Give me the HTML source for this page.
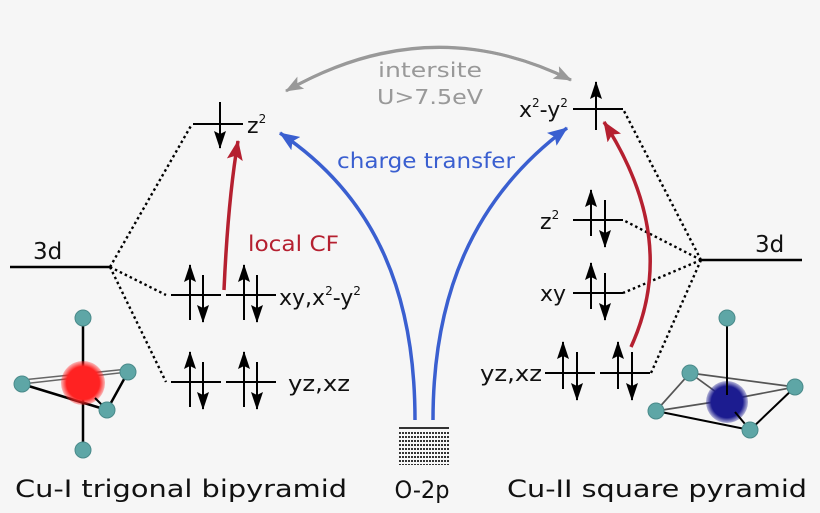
<!DOCTYPE html>
<html><head><meta charset="utf-8"><style>
html,body{margin:0;padding:0;background:#f6f6f6;}
svg{display:block;}
text{font-family:"DejaVu Sans","Liberation Sans",sans-serif;}
</style></head><body>
<svg width="820" height="513" viewBox="0 0 820 513" xmlns="http://www.w3.org/2000/svg">
<defs>
<marker id="ak" viewBox="0 0 18 12" refX="17" refY="6" markerUnits="userSpaceOnUse" markerWidth="18" markerHeight="12" orient="auto"><path d="M0,0 L18,6 L0,12 L3,6 Z" fill="#000"/></marker>
<marker id="ag" viewBox="0 0 18 14" refX="17" refY="7" markerUnits="userSpaceOnUse" markerWidth="18" markerHeight="14" orient="auto"><path d="M0,0 L18,7 L0,14 L4,7 Z" fill="#999"/></marker>
<marker id="ab" viewBox="0 0 20 16" refX="19" refY="8" markerUnits="userSpaceOnUse" markerWidth="20" markerHeight="16" orient="auto"><path d="M0,0 L20,8 L0,16 L4,8 Z" fill="#3a5fd0"/></marker>
<marker id="ar" viewBox="0 0 20 16" refX="19" refY="8" markerUnits="userSpaceOnUse" markerWidth="20" markerHeight="16" orient="auto"><path d="M0,0 L20,8 L0,16 L4,8 Z" fill="#b52030"/></marker>
<radialGradient id="rg"><stop offset="0.75" stop-color="#f22"/><stop offset="1" stop-color="#f22" stop-opacity="0.3"/></radialGradient>
<radialGradient id="bg"><stop offset="0.75" stop-color="#1c1c90"/><stop offset="1" stop-color="#1c1c90" stop-opacity="0.3"/></radialGradient>
<pattern id="dots" width="3" height="4" patternUnits="userSpaceOnUse"><rect width="2" height="2" fill="#333"/></pattern>
</defs>
<rect width="820" height="513" fill="#f6f6f6"/>

<!-- gray intersite arrow -->
<path d="M571,80 Q430,10 286,91" fill="none" stroke="#999" stroke-width="3" marker-end="url(#ag)"/>
<path d="M290,89 Q430,10 571,80" fill="none" stroke="#999" stroke-width="3" marker-end="url(#ag)"/>
<text x="430" y="77" font-size="20" fill="#999" text-anchor="middle" textLength="104" lengthAdjust="spacingAndGlyphs">intersite</text>
<text x="430" y="104" font-size="20" fill="#999" text-anchor="middle" textLength="106" lengthAdjust="spacingAndGlyphs">U&gt;7.5eV</text>

<!-- blue arrows -->
<path d="M415,420 C415,300 380,200 280,133" fill="none" stroke="#3a5fd0" stroke-width="3.5" marker-end="url(#ab)"/>
<path d="M433,420 C433,300 470,200 567,128" fill="none" stroke="#3a5fd0" stroke-width="3.5" marker-end="url(#ab)"/>
<text x="337" y="168" font-size="21" fill="#3a5fd0" textLength="178" lengthAdjust="spacingAndGlyphs">charge transfer</text>

<!-- O-2p -->
<line x1="399" y1="428" x2="449" y2="428" stroke="#333" stroke-width="2"/>
<rect x="399" y="432" width="50" height="33" fill="url(#dots)"/>
<text x="422" y="498" font-size="24" text-anchor="middle" fill="#111" textLength="55" lengthAdjust="spacingAndGlyphs">O-2p</text>

<!-- LEFT -->
<line x1="10" y1="267" x2="110" y2="267" stroke="#000" stroke-width="2.5"/>
<text x="33" y="259" font-size="23" fill="#111">3d</text>
<g stroke="#000" stroke-width="2.4" stroke-dasharray="2.5,3" fill="none">
<line x1="110" y1="267" x2="192" y2="124"/>
<line x1="110" y1="267" x2="166" y2="295"/>
<line x1="110" y1="267" x2="166" y2="382"/>
</g>
<g stroke="#000" stroke-width="2">
<line x1="193" y1="124" x2="243" y2="124"/>
<line x1="171" y1="295" x2="221" y2="295"/><line x1="226" y1="295" x2="276" y2="295"/>
<line x1="171" y1="382" x2="221" y2="382"/><line x1="226" y1="382" x2="276" y2="382"/>
</g>
<g stroke="#000" stroke-width="2" fill="none">
<line x1="220" y1="102" x2="220" y2="148" marker-end="url(#ak)"/>
<line x1="190" y1="320" x2="190" y2="265" marker-end="url(#ak)"/>
<line x1="203" y1="275" x2="203" y2="322" marker-end="url(#ak)"/>
<line x1="244" y1="320" x2="244" y2="265" marker-end="url(#ak)"/>
<line x1="257" y1="275" x2="257" y2="322" marker-end="url(#ak)"/>
<line x1="190" y1="407" x2="190" y2="352" marker-end="url(#ak)"/>
<line x1="203" y1="362" x2="203" y2="409" marker-end="url(#ak)"/>
<line x1="244" y1="407" x2="244" y2="352" marker-end="url(#ak)"/>
<line x1="257" y1="362" x2="257" y2="409" marker-end="url(#ak)"/>
</g>
<text x="247" y="133" font-size="22" fill="#111">z<tspan font-size="12" dy="-10">2</tspan></text>
<text x="279" y="305" font-size="22" fill="#111">xy,x<tspan font-size="12" dy="-10">2</tspan><tspan dy="10">-y</tspan><tspan font-size="12" dy="-10">2</tspan></text>
<text x="288" y="391" font-size="22" fill="#111" textLength="62" lengthAdjust="spacingAndGlyphs">yz,xz</text>
<!-- red left -->
<path d="M224,290 Q228,200 238,141" fill="none" stroke="#b52030" stroke-width="3.5" marker-end="url(#ar)"/>
<text x="248" y="251" font-size="21" fill="#b52030" textLength="91" lengthAdjust="spacingAndGlyphs">local CF</text>

<!-- left molecule -->
<g stroke="#000" stroke-width="2.5">
<line x1="83" y1="318" x2="83" y2="450"/>
<line x1="22" y1="384" x2="107" y2="410"/>
<line x1="128" y1="372" x2="107" y2="410"/>
</g>
<g stroke="#666" stroke-width="1.5">
<line x1="22" y1="384" x2="128" y2="372"/><line x1="22" y1="380" x2="128" y2="369"/>
</g>
<circle cx="83" cy="383" r="22" fill="url(#rg)"/>
<line x1="95" y1="398" x2="107" y2="410" stroke="#000" stroke-width="2"/>
<g fill="#5ea6a6" stroke="#4a8a8a">
<circle cx="83" cy="318" r="8"/><circle cx="22" cy="384" r="8"/><circle cx="128" cy="372" r="8"/><circle cx="107" cy="410" r="8"/><circle cx="83" cy="450" r="8"/>
</g>
<text x="15" y="497" font-size="24" fill="#111" textLength="332" lengthAdjust="spacingAndGlyphs">Cu-I trigonal bipyramid</text>

<!-- RIGHT -->
<line x1="701" y1="260" x2="802" y2="260" stroke="#000" stroke-width="2.5"/>
<text x="755" y="252" font-size="23" fill="#111">3d</text>
<g stroke="#000" stroke-width="2.4" stroke-dasharray="2.5,3" fill="none">
<line x1="701" y1="260" x2="623" y2="109"/>
<line x1="701" y1="260" x2="623" y2="220"/>
<line x1="701" y1="260" x2="623" y2="293"/>
<line x1="701" y1="260" x2="651" y2="373"/>
</g>
<g stroke="#000" stroke-width="2">
<line x1="573" y1="109" x2="623" y2="109"/>
<line x1="573" y1="220" x2="623" y2="220"/>
<line x1="573" y1="293" x2="623" y2="293"/>
<line x1="545" y1="373" x2="595" y2="373"/><line x1="600" y1="373" x2="650" y2="373"/>
</g>
<g stroke="#000" stroke-width="2" fill="none">
<line x1="596" y1="130" x2="596" y2="82" marker-end="url(#ak)"/>
<line x1="591" y1="236" x2="591" y2="190" marker-end="url(#ak)"/>
<line x1="605" y1="200" x2="605" y2="247" marker-end="url(#ak)"/>
<line x1="591" y1="309" x2="591" y2="263" marker-end="url(#ak)"/>
<line x1="605" y1="273" x2="605" y2="320" marker-end="url(#ak)"/>
<line x1="563" y1="389" x2="563" y2="342" marker-end="url(#ak)"/>
<line x1="577" y1="352" x2="577" y2="400" marker-end="url(#ak)"/>
<line x1="618" y1="389" x2="618" y2="342" marker-end="url(#ak)"/>
<line x1="632" y1="352" x2="632" y2="400" marker-end="url(#ak)"/>
</g>
<text x="519" y="117" font-size="22" fill="#111">x<tspan font-size="12" dy="-10">2</tspan><tspan dy="10">-y</tspan><tspan font-size="12" dy="-10">2</tspan></text>
<text x="540" y="229" font-size="22" fill="#111">z<tspan font-size="12" dy="-10">2</tspan></text>
<text x="540" y="301" font-size="22" fill="#111">xy</text>
<text x="480" y="381" font-size="22" fill="#111" textLength="62" lengthAdjust="spacingAndGlyphs">yz,xz</text>
<!-- red right -->
<path d="M631,347 Q680,240 604,122" fill="none" stroke="#b52030" stroke-width="3.5" marker-end="url(#ar)"/>

<!-- right molecule -->
<g stroke="#000" stroke-width="2">
<line x1="656" y1="411" x2="750" y2="430"/>
<line x1="795" y1="387" x2="750" y2="430"/>
</g>
<g stroke="#555" stroke-width="1.7">
<line x1="690" y1="373" x2="795" y2="387"/>
<line x1="690" y1="373" x2="656" y2="411"/>
<line x1="656" y1="411" x2="727" y2="400"/>
<line x1="690" y1="373" x2="727" y2="400"/>
<line x1="795" y1="387" x2="727" y2="400"/>
</g>
<circle cx="727" cy="402" r="21" fill="url(#bg)"/>
<line x1="735" y1="412" x2="750" y2="430" stroke="#000" stroke-width="2"/>
<line x1="727" y1="318" x2="727" y2="395" stroke="#000" stroke-width="2"/>
<g fill="#5ea6a6" stroke="#4a8a8a">
<circle cx="727" cy="318" r="8"/><circle cx="690" cy="373" r="8"/><circle cx="795" cy="387" r="8"/><circle cx="656" cy="411" r="8"/><circle cx="750" cy="430" r="8"/>
</g>
<text x="507" y="497" font-size="24" fill="#111" textLength="300" lengthAdjust="spacingAndGlyphs">Cu-II square pyramid</text>
</svg>
</body></html>
